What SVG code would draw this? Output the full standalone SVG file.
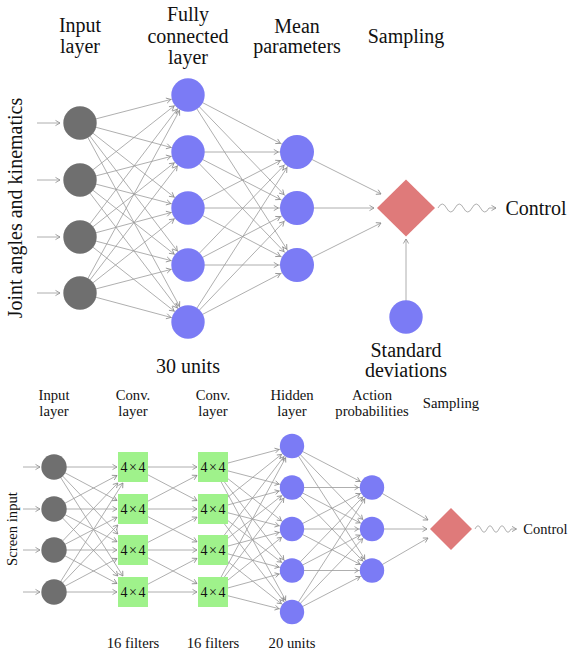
<svg xmlns="http://www.w3.org/2000/svg" width="574" height="658" viewBox="0 0 574 658">
<style>
text{font-family:'Liberation Serif','Times New Roman','DejaVu Serif',serif;fill:#111;}
.t20{font-size:20px;text-anchor:middle;}
.t15{font-size:14.7px;text-anchor:middle;}
.box{font-size:14px;text-anchor:middle;letter-spacing:1.5px;}
.e{stroke:#9a9a9a;stroke-width:0.8;fill:none;}
.fc{marker-end:url(#aFC);}
.mn{marker-end:url(#aMN);}
.hd{marker-end:url(#aH);}
.pl{marker-end:url(#aP);}
.gray{fill:#6f6f6f;}
.blue{fill:#7b7bf5;}
.red{fill:#df7a7a;}
.green{fill:#9ff28b;}
.ah{stroke:#8a8a8a;stroke-width:0.8;fill:none;}
</style>
<defs>
<marker id="aFC" markerUnits="userSpaceOnUse" viewBox="-6 -4 30 8" refX="17.7" refY="0" markerWidth="30" markerHeight="8" orient="auto" overflow="visible"><path class="ah" d="M-4.5,-2.6L0,0L-4.5,2.6"/></marker>
<marker id="aMN" markerUnits="userSpaceOnUse" viewBox="-6 -4 30 8" refX="18.7" refY="0" markerWidth="30" markerHeight="8" orient="auto" overflow="visible"><path class="ah" d="M-4.5,-2.6L0,0L-4.5,2.6"/></marker>
<marker id="aH" markerUnits="userSpaceOnUse" viewBox="-6 -4 30 8" refX="13.5" refY="0" markerWidth="30" markerHeight="8" orient="auto" overflow="visible"><path class="ah" d="M-4,-2.4L0,0L-4,2.4"/></marker>
<marker id="aP" markerUnits="userSpaceOnUse" viewBox="-6 -4 8 8" refX="0" refY="0" markerWidth="8" markerHeight="8" orient="auto" overflow="visible"><path class="ah" d="M-4.5,-2.6L0,0L-4.5,2.6"/></marker>
</defs>

<g id="connectors">
<line class="e pl" x1="37" y1="123" x2="60" y2="123"/>
<line class="e pl" x1="37" y1="180" x2="60" y2="180"/>
<line class="e pl" x1="37" y1="237" x2="60" y2="237"/>
<line class="e pl" x1="37" y1="293" x2="60" y2="293"/>
<line class="e fc" x1="80" y1="123" x2="188" y2="95"/>
<line class="e fc" x1="80" y1="123" x2="188" y2="152"/>
<line class="e fc" x1="80" y1="123" x2="188" y2="208"/>
<line class="e fc" x1="80" y1="123" x2="188" y2="265"/>
<line class="e fc" x1="80" y1="123" x2="188" y2="322"/>
<line class="e fc" x1="80" y1="180" x2="188" y2="95"/>
<line class="e fc" x1="80" y1="180" x2="188" y2="152"/>
<line class="e fc" x1="80" y1="180" x2="188" y2="208"/>
<line class="e fc" x1="80" y1="180" x2="188" y2="265"/>
<line class="e fc" x1="80" y1="180" x2="188" y2="322"/>
<line class="e fc" x1="80" y1="237" x2="188" y2="95"/>
<line class="e fc" x1="80" y1="237" x2="188" y2="152"/>
<line class="e fc" x1="80" y1="237" x2="188" y2="208"/>
<line class="e fc" x1="80" y1="237" x2="188" y2="265"/>
<line class="e fc" x1="80" y1="237" x2="188" y2="322"/>
<line class="e fc" x1="80" y1="293" x2="188" y2="95"/>
<line class="e fc" x1="80" y1="293" x2="188" y2="152"/>
<line class="e fc" x1="80" y1="293" x2="188" y2="208"/>
<line class="e fc" x1="80" y1="293" x2="188" y2="265"/>
<line class="e fc" x1="80" y1="293" x2="188" y2="322"/>
<line class="e mn" x1="188" y1="95" x2="297" y2="152"/>
<line class="e mn" x1="188" y1="95" x2="297" y2="208"/>
<line class="e mn" x1="188" y1="95" x2="297" y2="265"/>
<line class="e mn" x1="188" y1="152" x2="297" y2="152"/>
<line class="e mn" x1="188" y1="152" x2="297" y2="208"/>
<line class="e mn" x1="188" y1="152" x2="297" y2="265"/>
<line class="e mn" x1="188" y1="208" x2="297" y2="152"/>
<line class="e mn" x1="188" y1="208" x2="297" y2="208"/>
<line class="e mn" x1="188" y1="208" x2="297" y2="265"/>
<line class="e mn" x1="188" y1="265" x2="297" y2="152"/>
<line class="e mn" x1="188" y1="265" x2="297" y2="208"/>
<line class="e mn" x1="188" y1="265" x2="297" y2="265"/>
<line class="e mn" x1="188" y1="322" x2="297" y2="152"/>
<line class="e mn" x1="188" y1="322" x2="297" y2="208"/>
<line class="e mn" x1="188" y1="322" x2="297" y2="265"/>
<line class="e pl" x1="297" y1="152" x2="381" y2="194"/>
<line class="e pl" x1="297" y1="208" x2="374" y2="208"/>
<line class="e pl" x1="297" y1="265" x2="381" y2="223"/>
<line class="e pl" x1="406" y1="317" x2="406" y2="239"/>
<path class="e pl" d="M438,208 q4.25,-8 8.5,0 t8.5,0 t8.5,0 t8.5,0 t8.5,0 t8.5,0 l7,0"/>

<line class="e pl" x1="23" y1="467" x2="40" y2="467"/>
<line class="e pl" x1="23" y1="509" x2="40" y2="509"/>
<line class="e pl" x1="23" y1="550" x2="40" y2="550"/>
<line class="e pl" x1="23" y1="592" x2="40" y2="592"/>
<line class="e pl" x1="54" y1="467" x2="117" y2="467"/>
<line class="e pl" x1="54" y1="467" x2="117" y2="500.5"/>
<line class="e pl" x1="54" y1="467" x2="117.8" y2="534"/>
<line class="e pl" x1="54" y1="467" x2="122.9" y2="576"/>
<line class="e pl" x1="54" y1="509" x2="117" y2="475.5"/>
<line class="e pl" x1="54" y1="509" x2="117" y2="509"/>
<line class="e pl" x1="54" y1="509" x2="117" y2="541.7"/>
<line class="e pl" x1="54" y1="509" x2="117.8" y2="576"/>
<line class="e pl" x1="54" y1="550" x2="117.8" y2="483"/>
<line class="e pl" x1="54" y1="550" x2="117" y2="517.3"/>
<line class="e pl" x1="54" y1="550" x2="117" y2="550"/>
<line class="e pl" x1="54" y1="550" x2="117" y2="583.5"/>
<line class="e pl" x1="54" y1="592" x2="122.9" y2="483"/>
<line class="e pl" x1="54" y1="592" x2="117.8" y2="525"/>
<line class="e pl" x1="54" y1="592" x2="117" y2="558.5"/>
<line class="e pl" x1="54" y1="592" x2="117" y2="592"/>
<line class="e pl" x1="133" y1="467" x2="197" y2="467"/>
<line class="e pl" x1="133" y1="467" x2="197" y2="500.6"/>
<line class="e pl" x1="133" y1="509" x2="197" y2="475.4"/>
<line class="e pl" x1="133" y1="509" x2="197" y2="509"/>
<line class="e pl" x1="133" y1="509" x2="197" y2="541.8"/>
<line class="e pl" x1="133" y1="550" x2="197" y2="517.2"/>
<line class="e pl" x1="133" y1="550" x2="197" y2="550"/>
<line class="e pl" x1="133" y1="550" x2="197" y2="583.6"/>
<line class="e pl" x1="133" y1="592" x2="197" y2="558.4"/>
<line class="e pl" x1="133" y1="592" x2="197" y2="592"/>
<line class="e hd" x1="213" y1="467" x2="292" y2="446"/>
<line class="e hd" x1="213" y1="467" x2="292" y2="487.5"/>
<line class="e hd" x1="213" y1="467" x2="292" y2="529"/>
<line class="e hd" x1="213" y1="467" x2="292" y2="570.5"/>
<line class="e hd" x1="213" y1="467" x2="292" y2="612"/>
<line class="e hd" x1="213" y1="509" x2="292" y2="446"/>
<line class="e hd" x1="213" y1="509" x2="292" y2="487.5"/>
<line class="e hd" x1="213" y1="509" x2="292" y2="529"/>
<line class="e hd" x1="213" y1="509" x2="292" y2="570.5"/>
<line class="e hd" x1="213" y1="509" x2="292" y2="612"/>
<line class="e hd" x1="213" y1="550" x2="292" y2="446"/>
<line class="e hd" x1="213" y1="550" x2="292" y2="487.5"/>
<line class="e hd" x1="213" y1="550" x2="292" y2="529"/>
<line class="e hd" x1="213" y1="550" x2="292" y2="570.5"/>
<line class="e hd" x1="213" y1="550" x2="292" y2="612"/>
<line class="e hd" x1="213" y1="592" x2="292" y2="446"/>
<line class="e hd" x1="213" y1="592" x2="292" y2="487.5"/>
<line class="e hd" x1="213" y1="592" x2="292" y2="529"/>
<line class="e hd" x1="213" y1="592" x2="292" y2="570.5"/>
<line class="e hd" x1="213" y1="592" x2="292" y2="612"/>
<line class="e hd" x1="292" y1="446" x2="372" y2="487.5"/>
<line class="e hd" x1="292" y1="446" x2="372" y2="529"/>
<line class="e hd" x1="292" y1="446" x2="372" y2="570.5"/>
<line class="e hd" x1="292" y1="487.5" x2="372" y2="487.5"/>
<line class="e hd" x1="292" y1="487.5" x2="372" y2="529"/>
<line class="e hd" x1="292" y1="487.5" x2="372" y2="570.5"/>
<line class="e hd" x1="292" y1="529" x2="372" y2="487.5"/>
<line class="e hd" x1="292" y1="529" x2="372" y2="529"/>
<line class="e hd" x1="292" y1="529" x2="372" y2="570.5"/>
<line class="e hd" x1="292" y1="570.5" x2="372" y2="487.5"/>
<line class="e hd" x1="292" y1="570.5" x2="372" y2="529"/>
<line class="e hd" x1="292" y1="570.5" x2="372" y2="570.5"/>
<line class="e hd" x1="292" y1="612" x2="372" y2="487.5"/>
<line class="e hd" x1="292" y1="612" x2="372" y2="529"/>
<line class="e hd" x1="292" y1="612" x2="372" y2="570.5"/>
<line class="e pl" x1="372" y1="487.5" x2="428" y2="520"/>
<line class="e pl" x1="372" y1="529" x2="427" y2="529"/>
<line class="e pl" x1="372" y1="570.5" x2="428" y2="538"/>
<path class="e pl" d="M475,529 q3,-6.5 6,0 t6,0 t6,0 t6,0 t6,0 t6,0 l5.5,0"/>
</g>

<g id="in1"><circle class="gray" cx="80" cy="123" r="16.7"/></g>
<g id="in2"><circle class="gray" cx="80" cy="180" r="16.7"/></g>
<g id="in3"><circle class="gray" cx="80" cy="237" r="16.7"/></g>
<g id="in4"><circle class="gray" cx="80" cy="293" r="16.7"/></g>
<g id="fc1"><circle class="blue" cx="188" cy="95" r="16.7"/></g>
<g id="fc2"><circle class="blue" cx="188" cy="152" r="16.7"/></g>
<g id="fc3"><circle class="blue" cx="188" cy="208" r="16.7"/></g>
<g id="fc4"><circle class="blue" cx="188" cy="265" r="16.7"/></g>
<g id="fc5"><circle class="blue" cx="188" cy="322" r="16.7"/></g>
<g id="mean1"><circle class="blue" cx="297" cy="152" r="17"/></g>
<g id="mean2"><circle class="blue" cx="297" cy="208" r="17"/></g>
<g id="mean3"><circle class="blue" cx="297" cy="265" r="17"/></g>
<g id="sampling1"><polygon class="red" points="406,179.5 435,208 406,236.5 377,208"/></g>
<g id="std"><circle class="blue" cx="406" cy="317" r="16.7"/></g>
<g id="control1"><text class="t20" x="536" y="215">Control</text></g>

<g id="bin1"><circle class="gray" cx="54" cy="467" r="12.7"/></g>
<g id="bin2"><circle class="gray" cx="54" cy="509" r="12.7"/></g>
<g id="bin3"><circle class="gray" cx="54" cy="550" r="12.7"/></g>
<g id="bin4"><circle class="gray" cx="54" cy="592" r="12.7"/></g>
<g id="c1a"><rect class="green" x="118" y="452" width="30" height="30"/><text class="box" x="133.8" y="471.8">4×4</text></g>
<g id="c1b"><rect class="green" x="118" y="494" width="30" height="30"/><text class="box" x="133.8" y="513.8">4×4</text></g>
<g id="c1c"><rect class="green" x="118" y="535" width="30" height="30"/><text class="box" x="133.8" y="554.8">4×4</text></g>
<g id="c1d"><rect class="green" x="118" y="577" width="30" height="30"/><text class="box" x="133.8" y="596.8">4×4</text></g>
<g id="c2a"><rect class="green" x="198" y="452" width="30" height="30"/><text class="box" x="213.8" y="471.8">4×4</text></g>
<g id="c2b"><rect class="green" x="198" y="494" width="30" height="30"/><text class="box" x="213.8" y="513.8">4×4</text></g>
<g id="c2c"><rect class="green" x="198" y="535" width="30" height="30"/><text class="box" x="213.8" y="554.8">4×4</text></g>
<g id="c2d"><rect class="green" x="198" y="577" width="30" height="30"/><text class="box" x="213.8" y="596.8">4×4</text></g>
<g id="h1"><circle class="blue" cx="292" cy="446" r="12.2"/></g>
<g id="h2"><circle class="blue" cx="292" cy="487.5" r="12.2"/></g>
<g id="h3"><circle class="blue" cx="292" cy="529" r="12.2"/></g>
<g id="h4"><circle class="blue" cx="292" cy="570.5" r="12.2"/></g>
<g id="h5"><circle class="blue" cx="292" cy="612" r="12.2"/></g>
<g id="a1"><circle class="blue" cx="372" cy="487.5" r="12.2"/></g>
<g id="a2"><circle class="blue" cx="372" cy="529" r="12.2"/></g>
<g id="a3"><circle class="blue" cx="372" cy="570.5" r="12.2"/></g>
<g id="sampling2"><polygon class="red" points="451,508 472,529 451,550 430,529"/></g>
<g id="control2"><text class="t15" x="545.5" y="534" style="font-size:14.5px">Control</text></g>

<g id="labels">
<text class="t20" x="80" y="31.5">Input</text>
<text class="t20" x="80" y="53">layer</text>
<text class="t20" x="188" y="21">Fully</text>
<text class="t20" x="188" y="42.5">connected</text>
<text class="t20" x="188" y="64">layer</text>
<text class="t20" x="297" y="32.5">Mean</text>
<text class="t20" x="297" y="53">parameters</text>
<text class="t20" x="406" y="42.5">Sampling</text>
<text class="t20" transform="translate(21.5,208) rotate(-90)">Joint angles and kinematics</text>
<text class="t20" x="188" y="373">30 units</text>
<text class="t20" x="406" y="356.5">Standard</text>
<text class="t20" x="406" y="377">deviations</text>
<text class="t15" x="54" y="400">Input</text>
<text class="t15" x="54" y="416">layer</text>
<text class="t15" x="133" y="400">Conv.</text>
<text class="t15" x="133" y="416">layer</text>
<text class="t15" x="213" y="400">Conv.</text>
<text class="t15" x="213" y="416">layer</text>
<text class="t15" x="292" y="400">Hidden</text>
<text class="t15" x="292" y="416">layer</text>
<text class="t15" x="372" y="400">Action</text>
<text class="t15" x="372" y="416">probabilities</text>
<text class="t15" x="451" y="408">Sampling</text>
<text class="t15" transform="translate(16.5,529) rotate(-90)">Screen input</text>
<text class="t15" x="133" y="648">16 filters</text>
<text class="t15" x="213" y="648">16 filters</text>
<text class="t15" x="292" y="648">20 units</text>
</g>
</svg>
